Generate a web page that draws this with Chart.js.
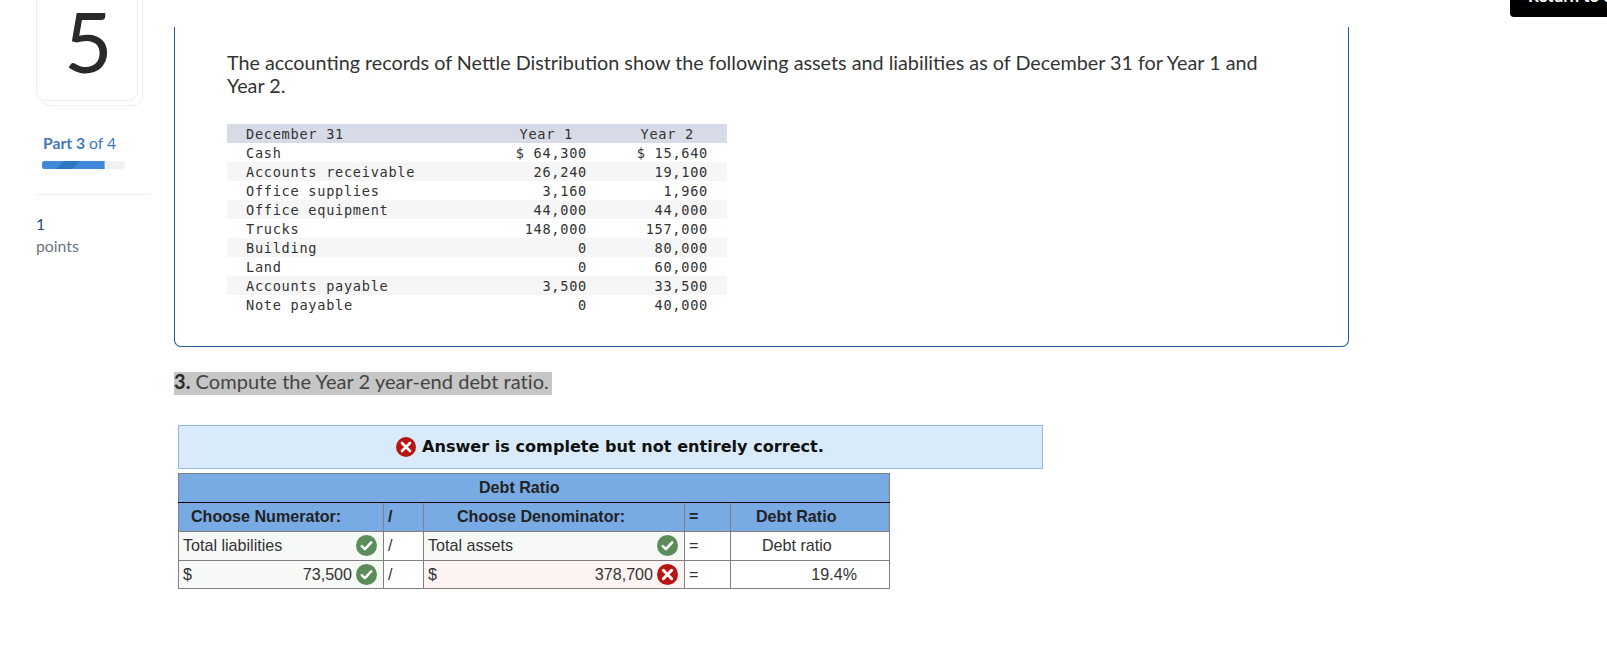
<!DOCTYPE html>
<html>
<head>
<meta charset="utf-8">
<script src="https://cdn.jsdelivr.net/npm/chart.js@4"></script>
<style>
html, body { margin: 0; padding: 0; width: 1607px; height: 645px; overflow: hidden; background: #fff; }
.abs { position: absolute; white-space: nowrap; }
.sans { font-family: Lato, "Open Sans", sans-serif; }
#panel { left: 174px; top: 27px; width: 1173px; height: 319px; box-sizing: content-box; border: 1px solid #1f5c99; border-top: 0; border-radius: 0 0 7px 7px; }
#assets { left: 227px; top: 124px; width: 500px; border-collapse: collapse; table-layout: fixed; font: 13.6px/18px "DejaVu Sans Mono", monospace; letter-spacing: .72px; color: #333; }
#assets td, #assets th { padding: 1px 0 0; height: 19px; box-sizing: border-box; font-weight: normal; text-align: right; white-space: pre; }
#assets td:first-child, #assets th:first-child { text-align: left; padding-left: 19px; }
#assets th { background: #d6dbe7; padding-right: 14px; }
#assets th:first-child { padding-right: 0; }
#assets tbody tr:nth-child(even) td { background: #f6f6f6; }
#banner { left: 178px; top: 425px; width: 865px; height: 44px; box-sizing: border-box; border: 1px solid #8fbbe3; background: #d9ebfa; }
#bannerText { left: 422px; top: 437px; font: bold 16.1px/20px "DejaVu Sans", sans-serif; color: #111; }
#ratio { left: 178px; top: 473px; border-collapse: collapse; table-layout: fixed; width: 711px; font: 16.1px/18px "Liberation Sans", Arial, sans-serif; color: #333; }
#ratio td, #ratio th { border: 1px solid #808080; padding: 0 4px 2px; height: 29px; box-sizing: border-box; position: relative; }
#ratio th { background: #78aae4; color: #222; font-weight: bold; text-align: left; }
#ratio .topHead { border-bottom: 1px solid #000; padding-left: 300px; }
#ratio .lastRow td { height: 28px; }
.ok { background: #f6f9f6; }
.bad { background: #fdf3f2; }
.icon { position: absolute; right: 6px; top: 3px; width: 21px; height: 21px; }
.amount { position: absolute; right: 31px; }
</style>
</head>
<body>
<div class="abs" style="left:40px;top:-2px;width:103px;height:108px;box-sizing:border-box;border:1px solid #eee;border-radius:0 0 10px 10px;"></div>
<div class="abs" style="left:36px;top:-2px;width:102px;height:103px;box-sizing:border-box;border:1px solid #eee;border-radius:0 0 10px 10px;background:#fff;"></div>
<div class="abs sans" id="number" style="left:64px;top:3px;font-size:84px;line-height:76px;color:#2a2a2a;">5</div>
<div class="abs sans" style="left:43px;top:134px;font-size:15.7px;line-height:18px;color:#3f78bd;"><b>Part 3</b> of 4</div>
<canvas id="progress" class="abs" style="left:42px;top:161px;"></canvas>
<div class="abs" style="left:36px;top:194px;width:113px;height:1px;background:#eee;"></div>
<div class="abs sans" style="left:36px;top:215px;font-size:15.8px;line-height:18px;color:#1f4f80;">1</div>
<div class="abs sans" style="left:36px;top:237px;font-size:15.8px;line-height:18px;color:#6a7480;">points</div>

<div class="abs" id="panel"></div>
<div class="abs sans" id="intro" style="left:227px;top:51px;font-size:19.78px;line-height:23px;color:#333;">The accounting records of Nettle Distribution show the following assets and liabilities as of December 31 for Year 1 and<br>Year 2.</div>
<table class="abs" id="assets"><colgroup><col style="width:255px"><col style="width:105px"><col style="width:121px"><col style="width:19px"></colgroup><thead></thead><tbody></tbody></table>

<div class="abs" style="left:174px;top:372px;width:378px;height:23px;background:#c6c6c6;"></div>
<div class="abs sans" style="left:174px;top:370px;font-size:20px;line-height:23px;letter-spacing:.05px;color:#444;"><b style="color:#2b2b2b">3.</b> Compute the Year 2 year-end debt ratio.</div>

<div class="abs" id="banner"></div>
<svg class="abs" style="left:396px;top:437px;" width="20" height="20" viewBox="0 0 20 20"><circle cx="10" cy="10" r="10" fill="#b81414"/><path d="M6 6l8 8M14 6l-8 8" stroke="#fff" stroke-width="2.6" stroke-linecap="round"/></svg>
<div class="abs" id="bannerText">Answer is complete but not entirely correct.</div>

<table class="abs" id="ratio">
<colgroup><col style="width:205px"><col style="width:40px"><col style="width:261px"><col style="width:46px"><col style="width:159px"></colgroup>
<tbody></tbody>
</table>

<div class="abs" style="left:1510px;top:-6px;width:110px;height:23px;background:#000;border-radius:4px;"></div>
<div class="abs" style="left:1528px;top:-14px;font:bold 17px/20px Lato,sans-serif;color:#fff;">Return to question</div>

<script>
// asset table
const assetHeaders = ['December 31', 'Year 1', 'Year 2'];
const assetNames = ['Cash', 'Accounts receivable', 'Office supplies', 'Office equipment', 'Trucks', 'Building', 'Land', 'Accounts payable', 'Note payable'];
const year1Values = ['$ 64,300', '26,240', '3,160', '44,000', '148,000', '0', '0', '3,500', '0'];
const year2Values = ['$ 15,640', '19,100', '1,960', '44,000', '157,000', '80,000', '60,000', '33,500', '40,000'];

// answer table
const ratioTitle = 'Debt Ratio';
const ratioHeaders = ['Choose Numerator:', '/', 'Choose Denominator:', '=', 'Debt Ratio'];
const ratioLabels = ['Total liabilities', '/', 'Total assets', '=', 'Debt ratio'];
const ratioValues = ['73,500', '/', '378,700', '=', '19.4%'];
const headerIndents = [12, 4, 33, 4, 25];

// progress bar
const progressLabels = ['Part'];
const partsDone = [3];
const partsLeft = [1];

const checkIcon = '<svg class="icon" viewBox="0 0 20 20"><circle cx="10" cy="10" r="10" fill="#5b8c5a"/><path d="M5.5 10.5l3 3 6-6.5" fill="none" stroke="#fff" stroke-width="2.4" stroke-linecap="round" stroke-linejoin="round"/></svg>';
const crossIcon = '<svg class="icon" viewBox="0 0 20 20"><circle cx="10" cy="10" r="10" fill="#b81414"/><path d="M6 6l8 8M14 6l-8 8" stroke="#fff" stroke-width="2.8" stroke-linecap="round"/></svg>';

function buildAssets() {
    const table = document.getElementById('assets');
    table.tHead.innerHTML = `<tr>${assetHeaders.map(h => `<th>${h}</th>`).join('')}<th></th></tr>`;
    table.tBodies[0].innerHTML = assetNames.map((name, i) =>
        `<tr><td>${name}</td><td>${year1Values[i]}</td><td>${year2Values[i]}</td><td></td></tr>`).join('');
}

function buildRatio() {
    const body = document.querySelector('#ratio tbody');
    body.innerHTML = `
        <tr><th class="topHead" colspan="5">${ratioTitle}</th></tr>
        <tr>${ratioHeaders.map((h, i) => `<th style="padding-left:${headerIndents[i]}px">${h}</th>`).join('')}</tr>
        <tr>
            <td class="ok">${ratioLabels[0]}${checkIcon}</td>
            <td>${ratioLabels[1]}</td>
            <td class="ok">${ratioLabels[2]}${checkIcon}</td>
            <td>${ratioLabels[3]}</td>
            <td style="padding-left:31px">${ratioLabels[4]}</td>
        </tr>
        <tr class="lastRow">
            <td class="ok">$<span class="amount">${ratioValues[0]}</span>${checkIcon}</td>
            <td>${ratioValues[1]}</td>
            <td class="bad">$<span class="amount">${ratioValues[2]}</span>${crossIcon}</td>
            <td>${ratioValues[3]}</td>
            <td style="text-align:right;padding-right:32px">${ratioValues[4]}</td>
        </tr>`;
}

function stripePattern(ctx) {
    const tile = document.createElement('canvas');
    tile.width = 46;
    tile.height = 8;
    const t = tile.getContext('2d');
    t.fillStyle = '#3f8bd9';
    t.fillRect(0, 0, 46, 8);
    t.fillStyle = '#2c78c0';
    t.beginPath();
    t.moveTo(14, 8); t.lineTo(22, 0); t.lineTo(38, 0); t.lineTo(30, 8);
    t.fill();
    return ctx.createPattern(tile, 'repeat');
}

function drawProgress() {
    const canvas = document.getElementById('progress');
    canvas.width = 83;
    canvas.height = 8;
    new Chart(canvas.getContext('2d'), {
        type: 'bar',
        data: {
            labels: progressLabels,
            datasets: [
                { data: partsDone, backgroundColor: stripePattern(canvas.getContext('2d')), borderRadius: { topLeft: 4, bottomLeft: 4 }, borderSkipped: false },
                { data: partsLeft, backgroundColor: '#f1f1f1', borderRadius: { topRight: 4, bottomRight: 4 }, borderSkipped: false }
            ]
        },
        options: {
            indexAxis: 'y',
            responsive: false,
            animation: false,
            layout: { padding: 0 },
            datasets: { bar: { barPercentage: 1, categoryPercentage: 1 } },
            scales: {
                x: { stacked: true, min: 0, max: 4, display: false },
                y: { stacked: true, display: false }
            },
            plugins: { legend: { display: false }, tooltip: { enabled: false } }
        }
    });
}

document.addEventListener('DOMContentLoaded', () => {
    buildAssets();
    buildRatio();
    drawProgress();
});
</script>
</body>
</html>
